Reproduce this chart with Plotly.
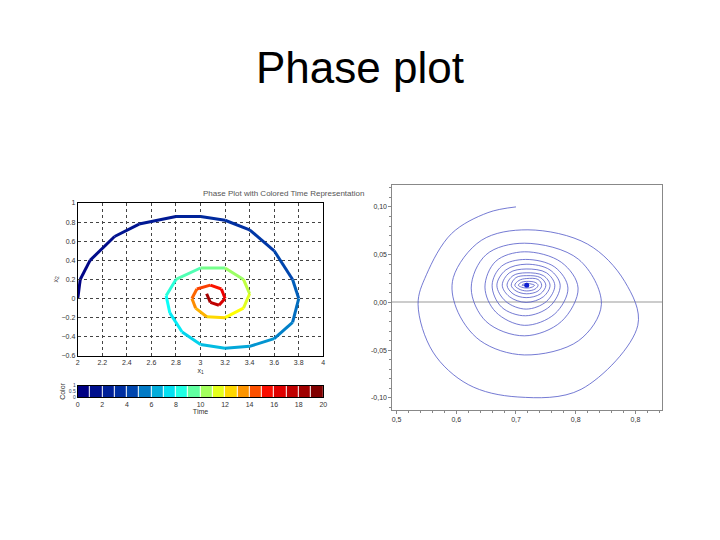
import plotly.graph_objects as go
from plotly.colors import sample_colorscale

# left: phase portrait, colored by time
left_x1 = [2.0, 2.02, 2.1, 2.3, 2.5, 2.8, 3.0, 3.2, 3.4, 3.6, 3.75, 3.8, 3.75, 3.6, 3.4, 3.2, 3.0,
           2.85, 2.75, 2.72, 2.8, 3.0, 3.2, 3.35, 3.4, 3.35, 3.2, 3.05, 2.96, 2.93, 2.97, 3.08,
           3.17, 3.2, 3.15, 3.08, 3.05]
left_x2 = [0.0, 0.2, 0.4, 0.65, 0.78, 0.86, 0.86, 0.82, 0.72, 0.5, 0.2, 0.0, -0.25, -0.42, -0.5,
           -0.52, -0.48, -0.35, -0.15, 0.03, 0.2, 0.32, 0.32, 0.2, 0.05, -0.1, -0.2, -0.19, -0.1,
           0.0, 0.1, 0.14, 0.1, 0.0, -0.07, -0.04, 0.05]
left_t = [0, 0.4, 0.8, 1.3, 1.7, 2.3, 2.8, 3.2, 3.7, 4.2, 4.7, 5.0, 5.4, 5.8, 6.2, 6.6, 7.1,
          7.6, 8.1, 8.6, 9.2, 9.8, 10.4, 11.0, 11.5, 12.0, 12.6, 13.2, 13.8, 14.4, 15.0, 15.7,
          16.4, 17.1, 17.9, 18.8, 20.0]
time_bins = list(range(0, 20))

# right: spiral around a stable focus
right_x = [0.70, 0.653, 0.592, 0.550, 0.536, 0.561, 0.620, 0.703, 0.809, 0.904, 0.882, 0.820,
           0.720, 0.642, 0.595, 0.600, 0.640,
           0.714, 0.805, 0.843, 0.805, 0.714, 0.650, 0.625, 0.650,
           0.714, 0.776, 0.804, 0.776, 0.714, 0.666, 0.648, 0.666,
           0.714, 0.765, 0.787, 0.765, 0.716, 0.676, 0.660, 0.676,
           0.716, 0.757, 0.774, 0.757, 0.717, 0.683, 0.668, 0.683,
           0.717, 0.751, 0.765, 0.751, 0.717, 0.689, 0.677, 0.689,
           0.717, 0.746, 0.757, 0.746, 0.717, 0.695, 0.685, 0.695,
           0.717, 0.741, 0.750, 0.741, 0.718, 0.700, 0.692, 0.700,
           0.718, 0.737, 0.743, 0.737, 0.718, 0.705, 0.698, 0.705,
           0.718, 0.732, 0.737, 0.732, 0.718, 0.709, 0.704, 0.709,
           0.718, 0.727, 0.731, 0.727, 0.718, 0.712, 0.710, 0.718]
right_y = [0.100, 0.094, 0.072, 0.029, -0.002, -0.052, -0.086, -0.099, -0.091, -0.024, 0.022,
           0.061, 0.076, 0.065, 0.026, -0.006, -0.040,
           -0.055, -0.040, -0.002, 0.045, 0.062, 0.050, 0.015, -0.020,
           -0.035, -0.020, 0.015, 0.042, 0.053, 0.043, 0.016, -0.010,
           -0.024, -0.012, 0.015, 0.037, 0.045, 0.038, 0.018, -0.005,
           -0.014, -0.004, 0.018, 0.034, 0.040, 0.034, 0.018, 0.001,
           -0.007, 0.001, 0.018, 0.031, 0.035, 0.031, 0.018, 0.006,
           0.000, 0.006, 0.018, 0.028, 0.031, 0.028, 0.018, 0.009,
           0.005, 0.009, 0.018, 0.026, 0.028, 0.026, 0.018, 0.012,
           0.009, 0.012, 0.018, 0.024, 0.025, 0.023, 0.018, 0.014,
           0.012, 0.014, 0.018, 0.021, 0.022, 0.021, 0.018, 0.016,
           0.015, 0.016, 0.018, 0.019, 0.020, 0.019, 0.018, 0.018]
right_ticks = [0.5, 0.6, 0.7, 0.8, 0.9]
right_tick_text = ['0,5', '0,6', '0,7', '0,8', '0,8']
right_yticks = [-0.10, -0.05, 0.0, 0.05, 0.10]
right_ytick_text = ['-0,10', '-0,05', '0,00', '0,05', '0,10']

fig = go.Figure()
small = dict(family='Liberation Sans', size=7, color='#333')

# colored segments for time
cols = sample_colorscale('Jet', [t / 20 for t in left_t])
for i in range(len(left_x1) - 1):
    fig.add_trace(go.Scatter(x=left_x1[i:i + 2], y=left_x2[i:i + 2], mode='lines',
                             line=dict(color=cols[i], width=3), xaxis='x', yaxis='y',
                             showlegend=False, hoverinfo='skip'))

# time colorbar strip
fig.add_trace(go.Heatmap(x=[b + 0.5 for b in time_bins], y=[0.5], z=[time_bins], colorscale='Jet',
                         zmin=0, zmax=19, showscale=False, xaxis='x2', yaxis='y2', xgap=1))

fig.add_trace(go.Scatter(x=right_x, y=right_y, mode='lines', line=dict(color='#5058c8', width=0.8,
                         shape='spline', smoothing=1.0), xaxis='x3', yaxis='y3', showlegend=False))
fig.add_trace(go.Scatter(x=[0.718], y=[0.018], mode='markers', marker=dict(color='#1020d0', size=5),
                         xaxis='x3', yaxis='y3', showlegend=False))

grid = dict(showgrid=True, gridcolor='#444', griddash='dot', gridwidth=0.7, showline=True,
            linecolor='black', mirror=True, ticks='inside', ticklen=3, tickfont=small, zeroline=False)

# page offset compensation (px)
dx, dy = 8 / 720, 8 / 540

fig.update_layout(
    width=720, height=540, margin=dict(l=0, r=0, t=0, b=0, autoexpand=False),
    paper_bgcolor='white', plot_bgcolor='white', showlegend=False,
    font=dict(family='Liberation Sans'),
    xaxis=dict(domain=[0.108 - dx, 0.449 - dx], range=[2, 4], dtick=0.2, anchor='y',
               title=dict(text='x<sub>1</sub>', font=small, standoff=2), **grid),
    yaxis=dict(domain=[0.341 + dy, 0.624 + dy], range=[-0.6, 1], dtick=0.2, anchor='x',
               title=dict(text='x<sub>2</sub>', font=small, standoff=2), **grid),
    xaxis2=dict(domain=[0.108 - dx, 0.449 - dx], range=[0, 20], dtick=2, anchor='y2', showline=True,
                linecolor='black', mirror=True, ticks='', tickfont=small, showgrid=False,
                title=dict(text='Time', font=small, standoff=2)),
    yaxis2=dict(domain=[0.264 + dy, 0.286 + dy], range=[0, 1], tickvals=[0, 0.5, 1],
                tickfont=dict(size=5), anchor='x2', showline=True, linecolor='black', mirror=True,
                showgrid=False, title=dict(text='Color', font=small, standoff=2)),
    xaxis3=dict(domain=[0.545 - dx, 0.919 - dx], range=[0.493, 0.944], tickvals=right_ticks,
                ticktext=right_tick_text, anchor='y3', showline=True, linecolor='#888',
                mirror=True, ticks='outside', ticklen=3, tickcolor='#888', minor=dict(ticks='outside',
                ticklen=2, dtick=0.02, tickcolor='#888'), tickfont=small, showgrid=False,
                zeroline=False),
    yaxis3=dict(domain=[0.241 + dy, 0.657 + dy], range=[-0.1125, 0.1227], tickvals=right_yticks,
                ticktext=right_ytick_text, anchor='x3', showline=True, linecolor='#888',
                mirror=True, ticks='outside', ticklen=3, tickcolor='#888', minor=dict(ticks='outside',
                ticklen=2, dtick=0.01, tickcolor='#888'), tickfont=small, showgrid=False,
                zeroline=True, zerolinecolor='#ccc', zerolinewidth=1.5),
    annotations=[
        dict(text='Phase plot', x=0.5 - dx, y=1 - 68 / 540 + dy, xref='paper', yref='paper',
             yanchor='middle', showarrow=False,
             font=dict(size=44, color='black', family='Liberation Sans')),
        dict(text='Phase Plot with Colored Time Representation', x=0.2785 - dx, y=0.642 + dy,
             xref='paper', yref='paper', yanchor='middle', showarrow=False,
             font=dict(size=8, color='#555')),
    ],
)
fig.write_html('out.html')
